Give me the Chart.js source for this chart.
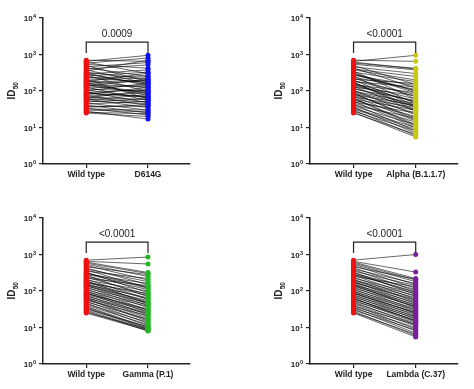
<!DOCTYPE html>
<html>
<head>
<meta charset="utf-8">
<script src="https://cdn.jsdelivr.net/npm/chart.js@4"></script>
<style>
  html, body { margin: 0; padding: 0; background: #fff; overflow: hidden; }
  #wrap { position: relative; width: 474px; height: 389px; }
  canvas { position: absolute; }
</style>
</head>
<body>
<div id="wrap">
  <canvas id="c1" width="237" height="190" style="left:0;top:0"></canvas>
  <canvas id="c2" width="237" height="190" style="left:237px;top:0"></canvas>
  <canvas id="c3" width="237" height="190" style="left:0;top:200px"></canvas>
  <canvas id="c4" width="237" height="190" style="left:237px;top:200px"></canvas>
</div>
<script>
// 野生株 (全パネル共通の血清)
const wildType = [700, 650, 620, 580, 540, 500, 460, 430, 400, 380, 350, 330, 310, 290, 270, 255, 240, 225, 210, 200,
  190, 180, 170, 160, 150, 142, 135, 128, 120, 113, 106, 100, 95, 90, 85, 80, 76, 72, 68, 64,
  60, 56, 53, 50, 47, 44, 41, 38, 36, 34, 32, 30, 28, 26, 25, 290, 175, 88, 62, 150];

const d614g = [650, 950, 300, 800, 420, 180, 600, 250, 520, 160, 700, 210, 140, 380, 95, 330, 170, 260, 60, 230,
  120, 310, 75, 190, 130, 85, 210, 55, 145, 100, 65, 165, 48, 110, 70, 125, 40, 90, 58, 105,
  35, 80, 45, 62, 30, 52, 25, 38, 42, 22, 30, 27, 17, 24, 20, 150, 200, 70, 50, 90];

const alpha = [650, 950, 400, 420, 380, 150, 300, 120, 250, 200, 60, 180, 100, 90, 140, 45, 110, 70, 160, 40,
  80, 130, 35, 60, 90, 50, 28, 75, 40, 55, 22, 45, 38, 30, 18, 40, 25, 15, 35, 12,
  30, 20, 10, 25, 14, 8, 18, 12, 7, 10, 9, 6, 8, 5.5, 6.5, 100, 30, 16, 11, 50];

const gamma = [850, 550, 320, 300, 250, 200, 280, 150, 180, 120, 220, 90, 130, 160, 70, 110, 80, 140, 60, 100,
  45, 75, 85, 50, 65, 40, 55, 35, 48, 30, 42, 26, 38, 22, 32, 28, 20, 25, 18, 24,
  15, 21, 13, 17, 11, 14, 12, 10, 9.5, 9, 10.5, 8.5, 8, 9, 8.2, 120, 60, 30, 16, 45];

const lambda = [1000, 330, 220, 200, 180, 150, 210, 120, 160, 100, 140, 80, 110, 90, 70, 130, 60, 85, 50, 75,
  65, 45, 55, 40, 48, 35, 42, 30, 38, 27, 33, 24, 30, 21, 26, 19, 23, 17, 20, 15,
  18, 14, 16, 12, 13, 11, 9, 12, 8, 10, 7, 8.5, 6, 6.5, 5.5, 95, 58, 25, 15, 36];

const yTicks = [1, 10, 100, 1000, 10000];
const FONT = '"Liberation Sans", Arial, sans-serif';

// パネル設定
const panels = [
  { id: 'c1', label: 'D614G', values: d614g, color: '#1010ee', p: '0.0009', left: 0, right: 47 },
  { id: 'c2', label: 'Alpha (B.1.1.7)', values: alpha, color: '#c8c810', p: '<0.0001', left: 30, right: 16 },
  { id: 'c3', label: 'Gamma (P.1)', values: gamma, color: '#22b822', p: '<0.0001', left: 0, right: 47 },
  { id: 'c4', label: 'Lambda (C.37)', values: lambda, color: '#7a1fa0', p: '<0.0001', left: 30, right: 16 }
];

// 有意差ブラケット + 10^n ラベル + ID50 タイトル
const extrasPlugin = {
  id: 'extras',
  afterDraw(chart, args, opts) {
    const { ctx, scales: { x, y } } = chart;
    const x0 = x.getPixelForValue(0), x1 = x.getPixelForValue(1);
    const yt = y.getPixelForValue(Math.pow(10, 3.34));
    const yb = y.getPixelForValue(Math.pow(10, 3.04));
    ctx.save();
    ctx.strokeStyle = '#222';
    ctx.lineWidth = 1.2;
    ctx.beginPath();
    ctx.moveTo(x0, yb); ctx.lineTo(x0, yt); ctx.lineTo(x1, yt); ctx.lineTo(x1, yb);
    ctx.stroke();
    ctx.fillStyle = '#222';
    ctx.font = '10px ' + FONT;
    ctx.textAlign = 'center';
    ctx.textBaseline = 'bottom';
    ctx.fillText(opts.text, (x0 + x1) / 2, yt - 3);

    // y軸ラベル 10^n
    const right = y.right - 7;
    ctx.textBaseline = 'alphabetic';
    yTicks.forEach((v, n) => {
      const py = y.getPixelForValue(v);
      ctx.font = 'bold 5.5px ' + FONT;
      const e = String(n);
      const ew = ctx.measureText(e).width;
      ctx.textAlign = 'left';
      ctx.fillText(e, right - ew, py);
      ctx.font = 'bold 8px ' + FONT;
      ctx.textAlign = 'right';
      ctx.fillText('10', right - ew - 0.3, py + 3);
    });

    // ID50
    const cy = (y.top + y.bottom) / 2;
    ctx.translate(y.left + 15, cy);
    ctx.rotate(-Math.PI / 2);
    ctx.font = 'bold 10px ' + FONT;
    const w1 = ctx.measureText('ID').width;
    ctx.font = 'bold 6.5px ' + FONT;
    const w2 = ctx.measureText('50').width;
    const sx = -(w1 + w2) / 2;
    ctx.textAlign = 'left';
    ctx.font = 'bold 10px ' + FONT;
    ctx.fillText('ID', sx, 0);
    ctx.font = 'bold 6.5px ' + FONT;
    ctx.fillText('50', sx + w1 + 0.3, 2.5);
    ctx.restore();
  }
};

panels.forEach(p => {
  const lines = [];
  wildType.forEach((w, i) => {
    lines.push({ x: 0, y: w }, { x: 1, y: p.values[i] }, { x: 0.5, y: null });
  });
  const xLabels = ['Wild type', p.label];

  new Chart(document.getElementById(p.id).getContext('2d'), {
    type: 'scatter',
    data: {
      datasets: [
        {
          data: wildType.map(v => ({ x: 0, y: v })),
          backgroundColor: '#ee1111', borderColor: '#ee1111',
          pointRadius: 2.5, borderWidth: 0
        },
        {
          data: p.values.map(v => ({ x: 1, y: v })),
          backgroundColor: p.color, borderColor: p.color,
          pointRadius: 2.5, borderWidth: 0
        },
        {
          data: lines,
          showLine: true, spanGaps: false,
          borderColor: 'rgba(0,0,0,0.85)', borderWidth: 0.7,
          pointRadius: 0
        }
      ]
    },
    options: {
      responsive: false,
      animation: false,
      layout: { padding: { left: p.left, right: p.right, top: 18, bottom: 0 } },
      plugins: {
        legend: { display: false },
        tooltip: { enabled: false },
        extras: { text: p.p }
      },
      scales: {
        x: {
          type: 'linear', min: -0.7, max: 1.68,
          afterBuildTicks: s => { s.ticks = [{ value: 0 }, { value: 1 }]; },
          afterFit: s => { s.height = 26; },
          ticks: {
            autoSkip: false, padding: 2, color: '#222',
            font: { family: FONT, size: 8.5, weight: 'bold' },
            callback: v => xLabels[v]
          },
          grid: { display: true, drawOnChartArea: false, drawTicks: true, tickLength: 4, color: '#222', lineWidth: 1.2 },
          border: { display: true, color: '#222', width: 1.5 }
        },
        y: {
          type: 'logarithmic', min: 1, max: 10000,
          afterBuildTicks: s => { s.ticks = yTicks.map(v => ({ value: v })); },
          afterFit: s => { s.width = 43; },
          ticks: { autoSkip: false, callback: () => '' },
          grid: { display: true, drawOnChartArea: false, drawTicks: true, tickLength: 4, color: '#222', lineWidth: 1.2 },
          border: { display: true, color: '#222', width: 1.5 }
        }
      }
    },
    plugins: [extrasPlugin]
  });
});
</script>
</body>
</html>
